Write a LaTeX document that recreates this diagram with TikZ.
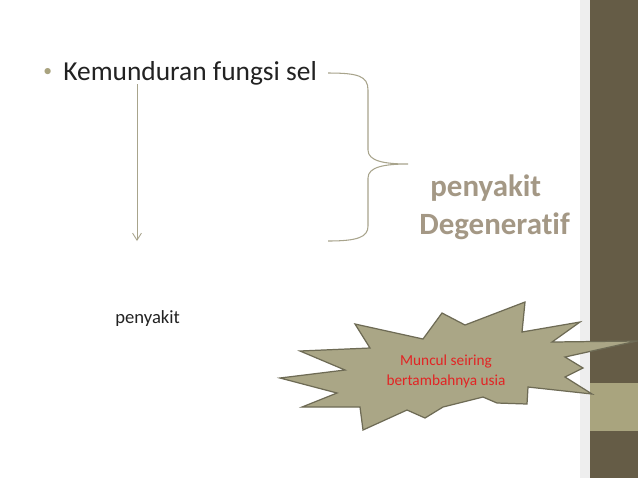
\documentclass[tikz,border=0pt]{standalone}
\usepackage{fontspec}
\setmainfont{Carlito}[Ligatures=NoCommon]
\usetikzlibrary{positioning, arrows.meta, calc}

\definecolor{bardark}{RGB}{101,92,70}
\definecolor{barlight}{RGB}{169,164,126}
\definecolor{strip}{RGB}{238,238,238}
\definecolor{linec}{RGB}{168,164,140}
\definecolor{bulletc}{RGB}{169,163,127}
\definecolor{degenc}{RGB}{164,152,133}
\definecolor{burstfill}{RGB}{170,166,134}
\definecolor{burstdraw}{RGB}{110,107,85}
\definecolor{redtext}{RGB}{226,36,36}
\definecolor{textc}{RGB}{34,34,34}

\pgfdeclareradialshading{bgshade}{\pgfpoint{0bp}{0bp}}{color(0bp)=(white); color(33bp)=(white); color(41bp)=(black!4); color(46bp)=(black!9); color(50bp)=(black!14)}

\begin{document}
\begin{tikzpicture}[
        x=0.02cm, y=-0.02cm,
        >={Straight Barb[length=4pt, width=5pt]},
        brace/.style={draw=linec, line width=0.6pt},
        arrowline/.style={draw=linec, line width=0.5pt, ->},
        burst/.style={fill=burstfill, draw=burstdraw, line width=0.7pt, line join=miter},
        maintext/.style={inner sep=0pt, text=textc},
    ]
    \useasboundingbox (0,0) rectangle (638,478);

        % Draw the background and the side bar
        \shade[shading=bgshade] (-20,-80) rectangle (780,720);
        \fill[strip] (580,0) rectangle (590,478);
        \fill[bardark] (590,0) rectangle (638,478);
        \fill[barlight] (590,383) rectangle (638,431);

        % Draw the text nodes
        \node[maintext, anchor=base west, font=\fontsize{15.6}{18}\selectfont,
              label={[text=bulletc, inner sep=0pt, label distance=6pt]left:•}] (kem) at (63,80) {Kemunduran fungsi sel};
        \node[maintext, anchor=base west, font=\fontsize{17.6}{21}\selectfont\bfseries, text=degenc] (peny1) at (430,196) {penyakit};
        \node[maintext, anchor=base west, font=\fontsize{17.6}{21}\selectfont\bfseries, text=degenc] (degen) at (419,234) {Degeneratif};
        \node[maintext, anchor=base west, font=\fontsize{10.6}{13}\selectfont] (peny2) at (115,323) {penyakit};

        % Draw the brace
        \coordinate (bt) at (328,73);
        \coordinate (tip) at (408,164);
        \coordinate (bb) at (328,241);
        \draw[brace] (bt) .. controls (358,73) and (368,76) .. (368,90) -- (368,150)
            .. controls (368,161) and (384,164) .. (tip)
            .. controls (384,164) and (368,167) .. (368,178) -- (368,226)
            .. controls (368,237) and (358,241) .. (bb);

        % Draw the arrow
        \coordinate (atop) at (137,84);
        \coordinate (abot) at (137,241);
        \draw[arrowline] (atop) -- (abot);

        % Draw the burst
        \draw[burst] (280,378) -- (345,370) -- (300,351) -- (370,348) -- (355,324)
            -- (423,339) -- (442,313) -- (465,325) -- (525,302) -- (522,332)
            -- (580,322) -- (552,342) -- (637,341) -- (565,357) -- (583,368)
            -- (565,377) -- (592,394) -- (528,387) -- (527,404) -- (497,403)
            -- (483,397) -- (443,407) -- (425,418) -- (407,410) -- (363,430)
            -- (360,407) -- (302,407) -- (337,393) -- cycle;
        \node[inner sep=0pt, align=center, text=redtext, font=\fontsize{8.7}{11.3}\selectfont] (muncul) at (446,371) {Muncul seiring\\bertambahnya usia};
    \end{tikzpicture}
\end{document}
